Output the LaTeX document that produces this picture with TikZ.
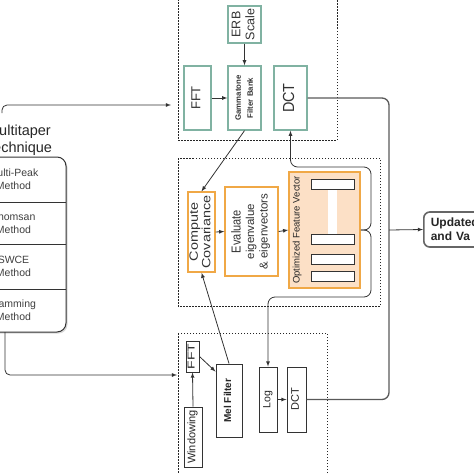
\documentclass[tikz,border=0pt]{standalone}
\usepackage{fontspec}
\setmainfont{Liberation Sans}
\usepackage{graphicx}
\usetikzlibrary{shadows}
\definecolor{boxteal}{RGB}{128,178,162}
\definecolor{boxorange}{RGB}{240,168,70}
\definecolor{peach}{RGB}{252,224,198}
\newcommand{\vtxt}[2][1]{\rotatebox{90}{\scalebox{#1}[1]{\begin{tabular}{@{}c@{}}#2\end{tabular}}}}
\newcommand{\fs}[2]{\fontsize{#1}{#2}\selectfont}
\begin{document}
\begin{tikzpicture}[x=1pt, y=-1pt,
  group/.style={draw=black!85, line width=1pt, dash pattern=on 1.5pt off 1.5pt},
  tealbox/.style={draw=boxteal, line width=1.3pt, fill=white, inner sep=0pt, text=black!80},
  orgbox/.style={draw=boxorange, line width=1.3pt, fill=white, inner sep=0pt, text=black!80},
  plainbox/.style={draw=black!80, line width=1pt, fill=white, inner sep=0pt, text=black!85},
  conn/.style={draw=black!80, line width=0.8pt, -latex},
  rail/.style={draw=black!65, line width=1.3pt, rounded corners=7pt}]
\useasboundingbox (0,0) rectangle (474,474);
\clip (0,0) rectangle (474,474);

\draw[group] (178,-10) rectangle (337,140);
\draw[group] (178,158) rectangle (380,306);
\draw[group] (178,333) rectangle (327,480);

\node[tealbox, minimum width=33pt, minimum height=37pt, font=\fs{12.5}{14}] (erb) at (244.5,24.5) {\vtxt{ERB\\Scale}};
\node[tealbox, minimum width=27pt, minimum height=64pt, font=\fs{13}{14}] (fft) at (197.5,98) {\vtxt{FFT}};
\node[tealbox, minimum width=33pt, minimum height=64pt, font=\bfseries\fs{7.8}{12}] (gamma) at (244.5,98) {\vtxt{Gammatone\\Filter Bank}};
\node[tealbox, minimum width=33pt, minimum height=64pt, font=\fs{16}{18}] (dcta) at (290.5,98) {\vtxt[0.9]{DCT}};

\node[orgbox, minimum width=27pt, minimum height=80pt, font=\fs{12}{12.5}] (cov) at (201.5,232) {\vtxt[1.2]{Compute\\Covariance}};
\node[orgbox, minimum width=53pt, minimum height=89pt, font=\fs{11.5}{13.5}] (evl) at (251.5,231.5) {\vtxt{{\fs{13}{13.5}\scalebox{0.85}[1]{Evaluate}}\\eigenvalue\\\& eigenvectors}};
\node[draw=boxorange, line width=1.5pt, fill=peach, minimum width=71pt, minimum height=116pt, inner sep=0pt] (opt) at (324.5,230) {};
\fill[white] (328,189) rectangle (337,235);
\foreach \y [count=\i] in {184,239.5,259,276.5}
  \node[plainbox, minimum width=43pt, minimum height=10pt] (cell\i) at (332.5,\y) {};
\node[font=\fs{9.5}{11}, text=black!85] (optlab) at (297.5,230) {\vtxt{Optimized Feature Vector}};

\node[plainbox, minimum width=13pt, minimum height=31pt, font=\fs{10}{11}] (fftb) at (192.5,356.5) {\vtxt[1.4]{FFT}};
\node[plainbox, minimum width=18pt, minimum height=60pt, font=\fs{11}{12}] (win) at (193,437) {\vtxt{Windowing}};
\node[plainbox, minimum width=26pt, minimum height=73pt, font=\bfseries\fs{10}{11}] (mel) at (229,400.5) {\vtxt{Mel Filter}};
\node[plainbox, minimum width=18pt, minimum height=65pt, font=\fs{10.5}{12}] (log) at (268,399.5) {\vtxt{Log}};
\node[plainbox, minimum width=19pt, minimum height=65pt, font=\fs{11}{12}] (dctb) at (296.5,399.5) {\vtxt{DCT}};

\node[font=\fs{14.5}{17}, align=center, text=black!85] (mt) at (19,140.5) {Multitaper\\Technique};
\node[draw=black!80, line width=1pt, fill=white, rounded corners=9pt, drop shadow={opacity=0.3, shadow xshift=1.5pt, shadow yshift=-1.5pt}, minimum width=106pt, minimum height=175pt, inner sep=0pt] (meth) at (13,244.5) {};
\foreach \y in {202,244,289}
  \draw[black!80, line width=0.9pt] (-40,\y) -- (66,\y);
\foreach \t/\y [count=\i] in {Multi-Peak/179.5, Thomsan/223, SWCE/266.5, Hamming/310.5}
  \node[font=\fs{10.5}{13}, align=center, text=black!75] (row\i) at (13.5,\y) {\t\\Method};

\node[draw=black!60, line width=1.6pt, rounded corners=6pt, minimum height=35pt, text width=76pt, inner xsep=7pt, anchor=west, align=left, font=\bfseries\fs{12}{14}, text=black!85] (upd) at (423,229.5) {Updated\\and Va};

\coordinate (topsrc) at (2,113);
\coordinate (topin) at (171,105);
\coordinate (methout) at (5,332);
\coordinate (botin) at (177,375);
\coordinate (railmid) at (389,230);
\coordinate (looptop) at (371,167);
\coordinate (loopbot) at (371,297);

\draw[conn, rounded corners=5pt] (topsrc) |- (topin);
\draw[conn, rounded corners=5pt] (methout) |- (botin);
\draw[conn] (erb.south) -- (gamma.north);
\draw[conn] (fft.east) -- (gamma.west);
\draw[conn] (gamma.south) -- (cov.north);
\draw[conn] (cov.east) -- (evl.west);
\draw[conn] (evl.east) -- (opt.west);
\draw[conn] (mel.north) -- (cov.south);
\draw[conn] (win.north) -- (fftb.south);
\draw[conn] (fftb.east) -- (mel.115);
\draw[conn] (log.east) -- (dctb.west);
\draw[conn, rounded corners=7pt] (opt.east) -| (looptop) -| (dcta.south);
\draw[conn, rounded corners=7pt] (opt.east) -| (loopbot) -| (log.north);
\draw[rail] (dcta.east) -| (railmid) |- (dctb.east);
\draw[conn] (railmid) -- (upd.west);
\end{tikzpicture}
\end{document}
